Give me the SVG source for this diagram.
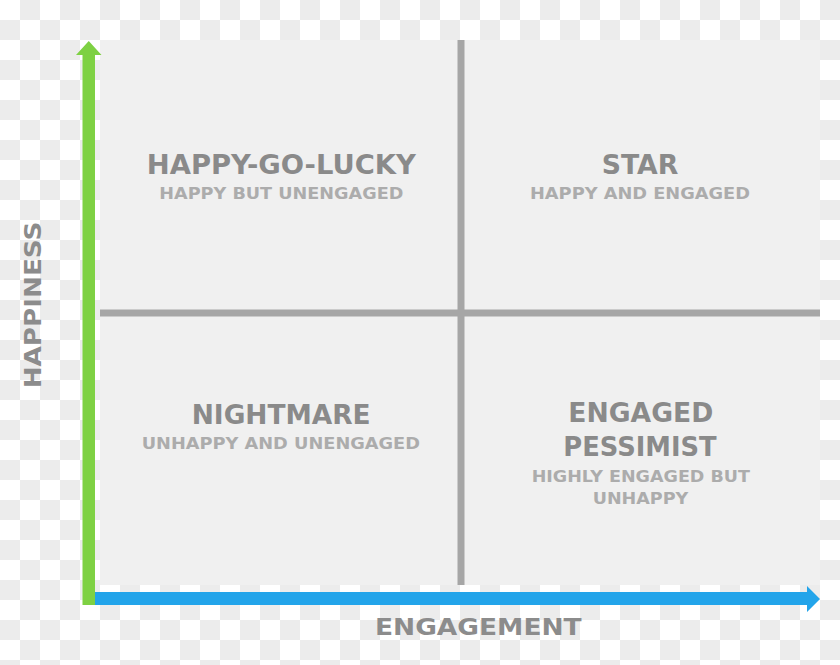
<svg xmlns="http://www.w3.org/2000/svg" width="840" height="665" viewBox="0 0 840 665">
  <defs>
    <pattern id="checker" x="0" y="0" width="40" height="40" patternUnits="userSpaceOnUse">
      <rect x="0" y="0" width="40" height="40" fill="#ffffff"/>
      <rect x="20" y="0" width="20" height="20" fill="#ececec"/>
      <rect x="0" y="20" width="20" height="20" fill="#ececec"/>
    </pattern>
  </defs>
  <style>
    .title { font-family: "DejaVu Sans", "Liberation Sans", sans-serif; font-weight: bold; font-size: 27px; fill: #8a8a8a; text-anchor: middle; }
    .sub { font-family: "DejaVu Sans", "Liberation Sans", sans-serif; font-weight: bold; font-size: 16px; fill: #acacac; text-anchor: middle; }
    .axis { font-family: "DejaVu Sans", "Liberation Sans", sans-serif; font-weight: bold; font-size: 23px; fill: #8c8c8c; text-anchor: middle; }
    .divider { fill: #a6a6a6; }
  </style>

  <rect x="0" y="0" width="840" height="665" fill="url(#checker)"/>

  <g id="panel">
    <rect x="100" y="40" width="720" height="545" fill="#f0f0f0"/>
  </g>

  <g id="connectors">
    <rect class="divider" x="457.5" y="40" width="7" height="545"/>
    <rect class="divider" x="100" y="309.5" width="720" height="7"/>
    <polygon id="y-axis" fill="#7ed143" points="82.5,605 82.5,55 76,55 88.75,41 101.5,55 95,55 95,605"/>
    <polygon id="x-axis" fill="#22a4ea" points="95,592 807,592 807,586 820,599 807,612 807,605 95,605"/>
  </g>

  <g id="node-happy-go-lucky">
    <text class="title" x="281.3" y="174" textLength="269" lengthAdjust="spacingAndGlyphs">HAPPY-GO-LUCKY</text>
    <text class="sub" x="281.3" y="199.3" textLength="244" lengthAdjust="spacingAndGlyphs">HAPPY BUT UNENGAGED</text>
  </g>

  <g id="node-star">
    <text class="title" x="640" y="174.3" textLength="76.7" lengthAdjust="spacingAndGlyphs">STAR</text>
    <text class="sub" x="640" y="199.3" textLength="220" lengthAdjust="spacingAndGlyphs">HAPPY AND ENGAGED</text>
  </g>

  <g id="node-nightmare">
    <text class="title" x="281.2" y="424.3" textLength="179" lengthAdjust="spacingAndGlyphs">NIGHTMARE</text>
    <text class="sub" x="280.8" y="449.3" textLength="278.3" lengthAdjust="spacingAndGlyphs">UNHAPPY AND UNENGAGED</text>
  </g>

  <g id="node-engaged-pessimist">
    <text class="title" x="640.8" y="422.3" textLength="145" lengthAdjust="spacingAndGlyphs">ENGAGED</text>
    <text class="title" x="640" y="455.7" textLength="153.4" lengthAdjust="spacingAndGlyphs">PESSIMIST</text>
    <text class="sub" x="640.8" y="481.7" textLength="218.3" lengthAdjust="spacingAndGlyphs">HIGHLY ENGAGED BUT</text>
    <text class="sub" x="640.5" y="504" textLength="95.6" lengthAdjust="spacingAndGlyphs">UNHAPPY</text>
  </g>

  <g id="label-engagement">
    <text class="axis" x="478.3" y="635" textLength="206.7" lengthAdjust="spacingAndGlyphs">ENGAGEMENT</text>
  </g>

  <g id="label-happiness">
    <text class="axis" transform="translate(40.7,305) rotate(-90)" x="0" y="0" font-size="25" textLength="166.7" lengthAdjust="spacingAndGlyphs">HAPPINESS</text>
  </g>
</svg>
